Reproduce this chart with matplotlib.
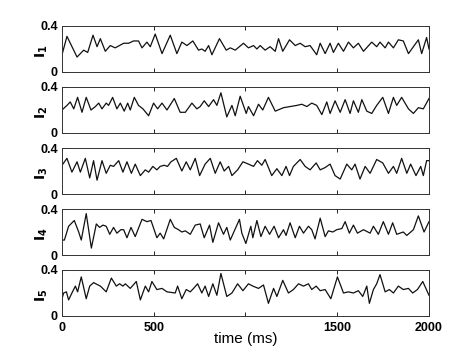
import matplotlib
matplotlib.use("Agg")
import matplotlib.pyplot as plt

t1 = [0, 27, 82, 118, 140, 169, 191, 209, 236, 263, 290, 336, 363, 390, 417, 436, 463, 481,
      508, 545, 590, 626, 653, 681, 713, 744, 762, 780, 799, 817, 858, 895, 917, 944, 989,
      1016, 1044, 1062, 1080, 1107, 1134, 1162, 1180, 1203, 1240, 1271, 1298, 1325, 1352,
      1388, 1407, 1434, 1461, 1479, 1506, 1534, 1561, 1588, 1615, 1643, 1688, 1715, 1733,
      1761, 1779, 1806, 1833, 1860, 1888, 1915, 1942, 1960, 1987, 2000]
i1 = [0.15, 0.31, 0.13, 0.19, 0.17, 0.32, 0.22, 0.29, 0.18, 0.23, 0.21, 0.25, 0.25, 0.27,
      0.27, 0.21, 0.26, 0.22, 0.33, 0.16, 0.32, 0.16, 0.26, 0.23, 0.27, 0.19, 0.20, 0.18,
      0.23, 0.15, 0.29, 0.19, 0.21, 0.19, 0.25, 0.21, 0.23, 0.20, 0.23, 0.19, 0.22, 0.18,
      0.29, 0.18, 0.28, 0.23, 0.25, 0.22, 0.23, 0.15, 0.25, 0.16, 0.25, 0.17, 0.25, 0.18,
      0.26, 0.21, 0.25, 0.18, 0.26, 0.22, 0.26, 0.21, 0.26, 0.21, 0.28, 0.27, 0.16, 0.22,
      0.28, 0.16, 0.30, 0.20]

t2 = [0, 27, 45, 64, 85, 109, 132, 158, 182, 200, 218, 241, 254, 276, 299, 318, 339, 358,
      372, 394, 417, 441, 472, 499, 521, 545, 572, 612, 644, 672, 708, 735, 753, 775, 799,
      826, 844, 866, 898, 926, 944, 971, 1004, 1016, 1044, 1071, 1094, 1125, 1162, 1207,
      1243, 1280, 1307, 1334, 1361, 1388, 1416, 1443, 1461, 1488, 1516, 1543, 1570, 1588,
      1615, 1634, 1661, 1688, 1715, 1748, 1779, 1806, 1824, 1851, 1888, 1915, 1942, 1969, 2000]
i2 = [0.20, 0.24, 0.27, 0.21, 0.31, 0.18, 0.31, 0.20, 0.23, 0.26, 0.21, 0.26, 0.24, 0.31,
      0.21, 0.26, 0.19, 0.26, 0.20, 0.31, 0.24, 0.21, 0.15, 0.26, 0.21, 0.26, 0.20, 0.30,
      0.18, 0.18, 0.26, 0.21, 0.23, 0.28, 0.23, 0.29, 0.24, 0.35, 0.14, 0.24, 0.15, 0.32,
      0.17, 0.23, 0.15, 0.25, 0.20, 0.31, 0.19, 0.22, 0.23, 0.24, 0.25, 0.23, 0.26, 0.24,
      0.16, 0.27, 0.17, 0.28, 0.18, 0.29, 0.17, 0.28, 0.18, 0.29, 0.19, 0.17, 0.24, 0.31,
      0.17, 0.31, 0.24, 0.31, 0.21, 0.17, 0.22, 0.21, 0.30]

t3 = [0, 27, 54, 82, 100, 127, 151, 172, 191, 218, 241, 263, 281, 309, 332, 354, 378, 399,
      427, 454, 472, 495, 517, 535, 557, 575, 594, 623, 653, 677, 699, 726, 750, 780, 808,
      835, 862, 884, 908, 926, 957, 986, 1016, 1044, 1065, 1089, 1107, 1143, 1171, 1198,
      1221, 1240, 1261, 1298, 1325, 1352, 1385, 1407, 1434, 1461, 1488, 1516, 1552, 1579,
      1597, 1624, 1652, 1679, 1715, 1748, 1779, 1806, 1824, 1851, 1879, 1900, 1929, 1955,
      1969, 1987, 2000]
i3 = [0.25, 0.31, 0.19, 0.28, 0.19, 0.31, 0.14, 0.29, 0.12, 0.29, 0.18, 0.25, 0.24, 0.29,
      0.19, 0.28, 0.18, 0.26, 0.16, 0.21, 0.19, 0.24, 0.21, 0.24, 0.25, 0.24, 0.28, 0.31,
      0.20, 0.28, 0.21, 0.31, 0.16, 0.26, 0.31, 0.18, 0.28, 0.20, 0.24, 0.16, 0.21, 0.28,
      0.26, 0.24, 0.29, 0.25, 0.30, 0.16, 0.22, 0.16, 0.24, 0.16, 0.24, 0.30, 0.24, 0.21,
      0.27, 0.21, 0.23, 0.26, 0.16, 0.13, 0.26, 0.21, 0.26, 0.13, 0.24, 0.18, 0.30, 0.27,
      0.18, 0.24, 0.18, 0.31, 0.18, 0.26, 0.16, 0.24, 0.16, 0.29, 0.29]

t4 = [0, 13, 36, 67, 91, 105, 132, 160, 187, 205, 223, 241, 260, 281, 299, 321, 336, 354,
      376, 399, 436, 463, 485, 517, 535, 554, 590, 612, 635, 653, 672, 699, 726, 753, 775,
      804, 822, 853, 880, 898, 917, 967, 980, 1002, 1029, 1040, 1062, 1084, 1107, 1131, 1156,
      1180, 1207, 1221, 1243, 1271, 1294, 1316, 1343, 1361, 1379, 1407, 1434, 1452, 1476,
      1497, 1525, 1543, 1566, 1588, 1610, 1643, 1679, 1697, 1724, 1751, 1779, 1802, 1824,
      1860, 1879, 1915, 1942, 1973, 2000]
i4 = [0.13, 0.13, 0.25, 0.30, 0.20, 0.13, 0.36, 0.06, 0.27, 0.24, 0.26, 0.25, 0.18, 0.24,
      0.19, 0.22, 0.22, 0.15, 0.24, 0.16, 0.31, 0.29, 0.30, 0.15, 0.19, 0.14, 0.31, 0.24,
      0.22, 0.20, 0.21, 0.18, 0.26, 0.27, 0.15, 0.26, 0.11, 0.28, 0.18, 0.24, 0.13, 0.31,
      0.19, 0.10, 0.25, 0.15, 0.30, 0.16, 0.25, 0.18, 0.25, 0.15, 0.22, 0.17, 0.28, 0.15,
      0.25, 0.19, 0.25, 0.22, 0.14, 0.32, 0.16, 0.21, 0.20, 0.22, 0.23, 0.29, 0.19, 0.26,
      0.19, 0.22, 0.19, 0.25, 0.18, 0.29, 0.18, 0.28, 0.18, 0.20, 0.17, 0.22, 0.34, 0.20, 0.29]

t5 = [0, 9, 24, 36, 54, 73, 85, 105, 132, 151, 172, 209, 241, 269, 296, 314, 332, 345, 372,
      405, 427, 454, 472, 490, 517, 545, 572, 617, 630, 653, 677, 699, 717, 739, 762, 780,
      799, 822, 844, 866, 898, 926, 957, 986, 1016, 1040, 1071, 1098, 1125, 1153, 1171, 1203,
      1234, 1261, 1289, 1316, 1343, 1361, 1385, 1407, 1434, 1465, 1501, 1534, 1561, 1588,
      1615, 1639, 1661, 1675, 1697, 1715, 1733, 1761, 1784, 1806, 1833, 1860, 1888, 1911,
      1937, 1966, 2000]
i5 = [0.15, 0.20, 0.21, 0.14, 0.20, 0.26, 0.21, 0.34, 0.15, 0.26, 0.29, 0.26, 0.21, 0.33,
      0.26, 0.28, 0.26, 0.28, 0.24, 0.30, 0.14, 0.26, 0.21, 0.30, 0.23, 0.24, 0.21, 0.20,
      0.26, 0.15, 0.23, 0.21, 0.24, 0.28, 0.20, 0.26, 0.17, 0.28, 0.18, 0.37, 0.17, 0.20,
      0.28, 0.22, 0.28, 0.26, 0.24, 0.27, 0.11, 0.24, 0.17, 0.31, 0.20, 0.23, 0.28, 0.26,
      0.28, 0.23, 0.26, 0.22, 0.23, 0.15, 0.34, 0.20, 0.21, 0.20, 0.22, 0.17, 0.26, 0.11,
      0.23, 0.28, 0.36, 0.21, 0.23, 0.20, 0.26, 0.23, 0.24, 0.20, 0.23, 0.30, 0.18]

traces = [(t1, i1), (t2, i2), (t3, i3), (t4, i4), (t5, i5)]
labels = ["1", "2", "3", "4", "5"]
xticks = [0, 500, 1000, 1500, 2000]
xticklabels = ["0", "500", "", "1500", "2000"]

plt.rcParams['font.family'] = ['Liberation Sans', 'DejaVu Sans']
fs = 9

fig = plt.figure(figsize=(4.74, 3.55), dpi=100)
W, H = 474.0, 355.0
left, width = 62 / W, 367 / W
axh = 46
for k, (t, v) in enumerate(traces):
    top = 26 + k * 61
    ax = fig.add_axes([left, 1 - (top + axh) / H, width, axh / H])
    ax.plot(t, v, color='#111111', lw=0.9)
    ax.set_xlim(0, 2000)
    ax.set_ylim(0, 0.4)
    ax.set_yticks([0, 0.4])
    ax.set_yticklabels(["0", "0.4"], fontsize=fs, fontweight='bold')
    ax.set_xticks(xticks)
    if k == 4:
        ax.set_xticklabels(xticklabels, fontsize=fs, fontweight='bold')
        ax.set_xlabel("time (ms)", fontsize=11, labelpad=-1)
    else:
        ax.set_xticklabels([])
    ax.tick_params(axis='x', direction='in', length=3, width=0.6, top=True, pad=4)
    ax.tick_params(axis='y', direction='in', length=3, width=0.6, right=True, pad=3)
    ax.set_ylabel(r"$\mathbf{I_%s}$" % labels[k], fontsize=10, rotation=90)
    ax.yaxis.set_label_coords(-0.033, 0.45)
    for s in ax.spines.values():
        s.set_linewidth(0.7)
        s.set_color('#333333')

fig.savefig("out.png", dpi=100)
